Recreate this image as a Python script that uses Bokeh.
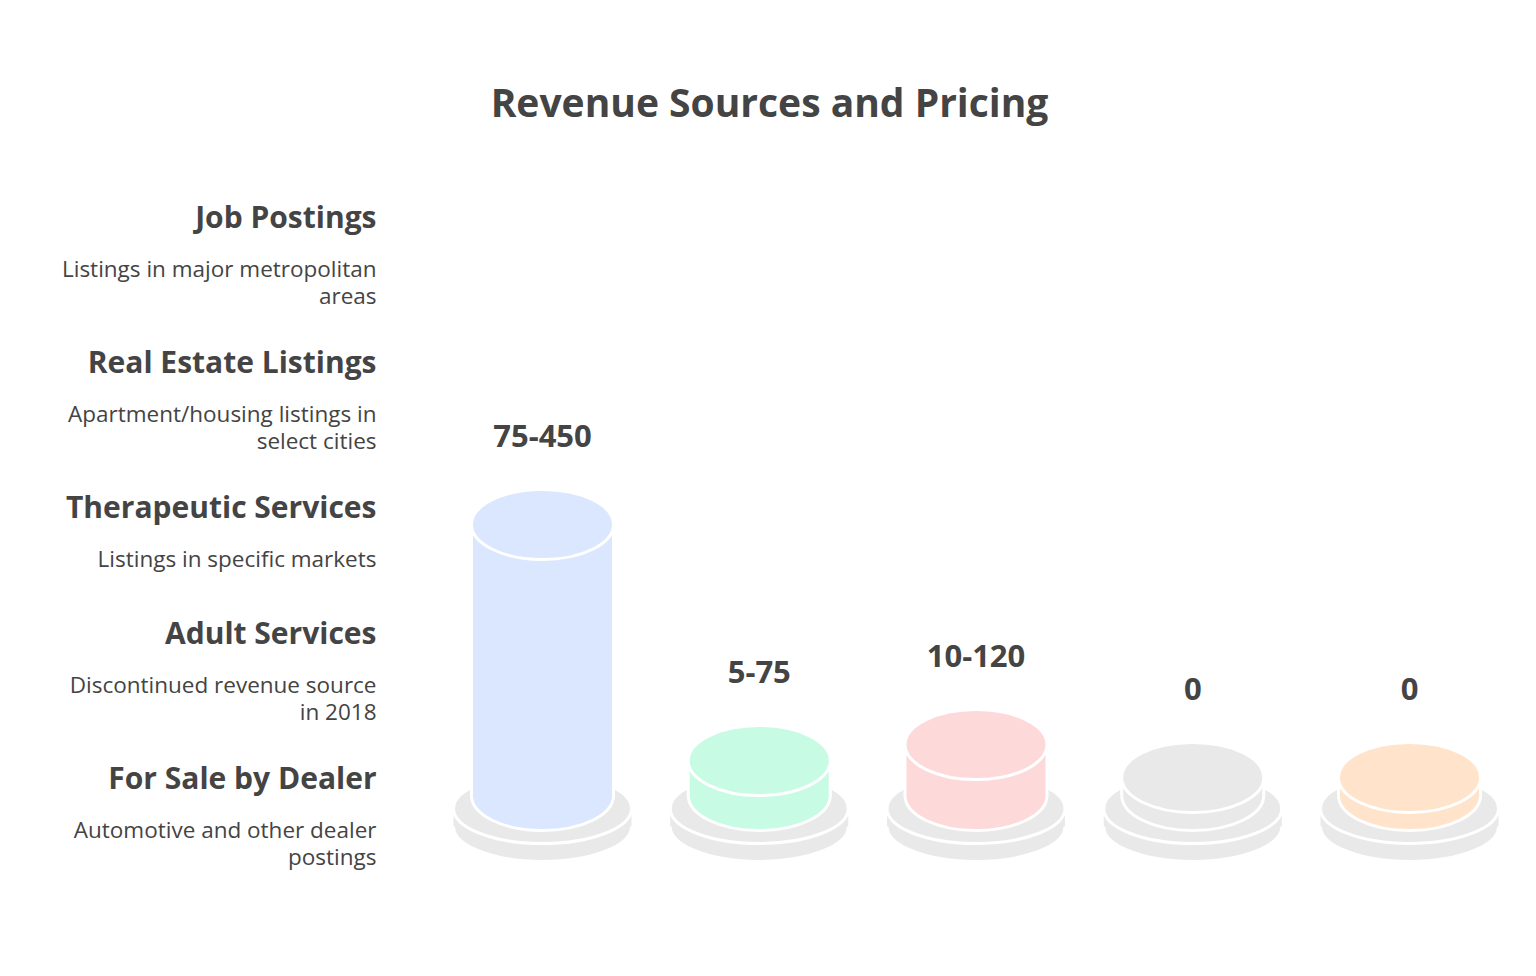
from bokeh.plotting import figure
from bokeh.models import Range1d, ColumnDataSource
from bokeh.core.properties import value
from bokeh.embed import file_html
from bokeh.resources import INLINE

# ---- data ----
categories = ["Job Postings", "Real Estate Listings", "Therapeutic Services",
              "Adult Services", "For Sale by Dealer"]
descriptions = [
    ["Listings in major metropolitan", "areas"],
    ["Apartment/housing listings in", "select cities"],
    ["Listings in specific markets"],
    ["Discontinued revenue source", "in 2018"],
    ["Automotive and other dealer", "postings"],
]
price_labels = ["75-450", "5-75", "10-120", "0", "0"]
levels = [100, 6.7, 13, 0, 0]          # relative bar level (% of largest)
colors = ["#dbe7fe", "#c7fbe3", "#fed9d9", "#e9e9e9", "#ffe3cb"]
title = "Revenue Sources and Pricing"

W, H = 1536, 976
TEXT = "#444444"
FONT = "Open Sans"

p = figure(width=W, height=H, x_range=Range1d(0, W), y_range=Range1d(H, 0),
           output_backend="svg", toolbar_location=None, min_border=0)
p.axis.visible = False
p.grid.visible = False
p.outline_line_color = None
p.background_fill_color = "white"
p.border_fill_color = "white"

# ---- layout ----
n = len(levels)
x0, dx = 542, 216.75
xs = [x0 + i * dx for i in range(n)]
base_y = 795
rx, ry = 71, 35
min_h, max_h = 18, 271
heights = [min_h + l / 100 * (max_h - min_h) for l in levels]
tops = [base_y - h for h in heights]

# pedestal discs
brx, bry = 89, 35
bt, bb = 808, 826
p.ellipse(x=xs, y=[bb] * n, width=2 * brx, height=2 * bry, fill_color="#e9e9e9",
          line_color="white", line_width=3)
p.quad(left=[x - brx for x in xs], right=[x + brx for x in xs], top=[bt] * n,
       bottom=[bb] * n, fill_color="#e9e9e9", line_color=None)
p.ellipse(x=xs, y=[bt] * n, width=2 * brx, height=2 * bry, fill_color="#e9e9e9",
          line_color="white", line_width=3)

# cylinders
src = ColumnDataSource(dict(x=xs, top=tops, bottom=[base_y] * n, color=colors,
                            left=[x - rx for x in xs], right=[x + rx for x in xs],
                            lab=price_labels, ly=[t - 89 for t in tops]))
p.ellipse(x="x", y="bottom", width=2 * rx, height=2 * ry, fill_color="color",
          line_color="white", line_width=3, source=src)
p.quad(left="left", right="right", top="top", bottom="bottom", fill_color="color",
       line_color=None, source=src)
p.segment(x0="left", y0="top", x1="left", y1="bottom", line_color="white",
          line_width=3, source=src)
p.segment(x0="right", y0="top", x1="right", y1="bottom", line_color="white",
          line_width=3, source=src)
p.ellipse(x="x", y="top", width=2 * rx, height=2 * ry, fill_color="color",
          line_color="white", line_width=3, source=src)

p.text(x="x", y="ly", text="lab", source=src, text_align="center",
       text_baseline="middle", text_font=value(FONT), text_font_style="bold",
       text_font_size="31px", text_color=TEXT)

# title
p.text(x=[W / 2 + 1], y=[101], text=[title], text_align="center", text_baseline="middle",
       text_font=value(FONT), text_font_style="bold", text_font_size="39px",
       text_color=TEXT)

# left labels
cat_y = [216, 361, 506, 632, 777]
tx, ty, dx_, dy_, dt = [], [], [], [], []
for c, y, ds in zip(categories, cat_y, descriptions):
    tx.append(376); ty.append(y)
    for j, d in enumerate(ds):
        dx_.append(376); dy_.append(y + 52 + j * 27); dt.append(d)
p.text(x=tx, y=ty, text=categories, text_align="right", text_baseline="middle",
       text_font=value(FONT), text_font_style="bold", text_font_size="30px",
       text_color=TEXT)
p.text(x=dx_, y=dy_, text=dt, text_align="right", text_baseline="middle",
       text_font=value(FONT), text_font_size="22.5px", text_color=TEXT)

open("out.html", "w").write(file_html(p, INLINE))
